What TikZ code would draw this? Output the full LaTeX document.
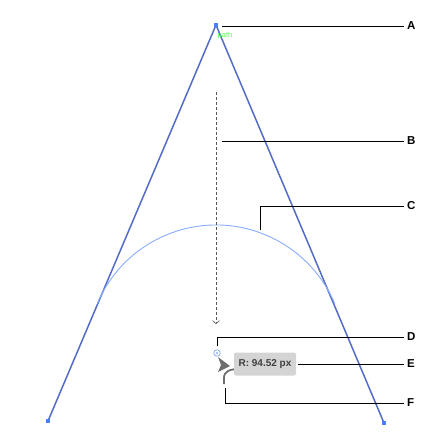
\documentclass[tikz,border=0pt]{standalone}
\usepackage{fontspec}
\setsansfont{Liberation Sans}
\usepackage{tikz}
\usetikzlibrary{arrows.meta}
\usetikzlibrary{backgrounds}
\usetikzlibrary{calc}
\usetikzlibrary{positioning}

\definecolor{pathblue}{RGB}{84,108,196}
\definecolor{arcblue}{RGB}{138,172,255}
\definecolor{anchorblue}{RGB}{72,128,255}
\definecolor{cursorgray}{RGB}{110,110,110}
\definecolor{boxgray}{RGB}{212,212,212}
\definecolor{hintgreen}{RGB}{90,250,90}

\tikzset{
	lab/.style={anchor=west, inner sep=3pt, font=\sffamily\bfseries\fontsize{11.5}{13}\selectfont},
	leader/.style={draw=black, line width=0.8pt}
}

\begin{document}
\begin{tikzpicture}[x=1pt,y=-1pt]
	\useasboundingbox (0,0) rectangle (428,442);

	\begin{scope}[every node/.style={rectangle, fill=anchorblue, inner sep=0pt, minimum size=4.5pt}]
		\node (apex) at (216,25) {};
		\node (left) at (48,421) {};
		\node (right) at (384,423) {};
	\end{scope}

	\begin{scope}[on background layer]
		\draw[pathblue, line width=1.5pt] (apex.center) -- (left.center);
		\draw[pathblue, line width=1.5pt] (apex.center) -- (right.center);
		\draw[arcblue, line width=0.9pt] (216,354) ++(203:129) arc[start angle=203, end angle=337, radius=129];
	\end{scope}

	\node[text=hintgreen, font=\sffamily\fontsize{7.5}{8}\selectfont, inner sep=0pt] (hint) at (225,36) {path};

	% drag direction
	\coordinate (dragtop) at (216,92);
	\coordinate (dragend) at (216,324);
	\draw[cursorgray!80!black, line width=0.6pt, dash pattern=on 3pt off 2pt, -{Straight Barb[length=3pt,width=7pt]}] (dragtop) -- (dragend);

	% center and cursor
	\node[circle, draw=arcblue, line width=0.8pt, inner sep=0pt, minimum size=6.5pt] (cen) at (217,353) {};
	\fill[arcblue] (cen) circle (1.2pt);
	\fill[cursorgray] (218,357) -- (230,366) -- (218,372) -- (221,365) -- cycle;
	\draw[cursorgray, line width=1.8pt] (224,384) -- (224,378) .. controls (224,371) and (230,369) .. (240,369);
	\node[fill=boxgray, rounded corners=2pt, minimum width=62pt, minimum height=23pt, inner sep=0pt,
	      text=black!75, font=\sffamily\bfseries\fontsize{10}{12}\selectfont] (rbox) at (265,364) {R: 94.52 px};

	% callouts
	\begin{scope}[every node/.style=lab]
		\node (A) at (404,26) {A};
		\node (B) at (404,141) {B};
		\node (C) at (404,206) {C};
		\node (D) at (404,337) {D};
		\node (E) at (404,364) {E};
		\node (F) at (404,403) {F};
	\end{scope}

	\coordinate (a0) at (222,26);
	\coordinate (b0) at (222,141);
	\coordinate (c0) at (260,230);
	\coordinate (d0) at (217,346);
	\coordinate (f0) at (225,388);

	\begin{scope}[every edge/.style=leader]
		\path (a0) edge (A.west);
		\path (b0) edge (B.west);
		\path (c0) edge[to path={|- (\tikztotarget)}] (C.west);
		\path (d0) edge[to path={|- (\tikztotarget)}] (D.west);
		\path ([xshift=2pt]rbox.east) edge (E.west);
		\path (f0) edge[to path={|- (\tikztotarget)}] (F.west);
	\end{scope}
\end{tikzpicture}
\end{document}
